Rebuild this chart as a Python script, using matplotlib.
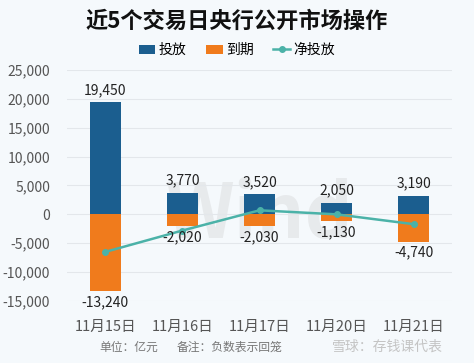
import numpy as np
import matplotlib.pyplot as plt

plt.rcParams['font.family'] = ['Noto Sans CJK SC', 'DejaVu Sans']

dates = ['11月15日', '11月16日', '11月17日', '11月20日', '11月21日']
inject = [19450, 3770, 3520, 2050, 3190]
mature = [-13240, -2020, -2030, -1130, -4740]
net = [-6500, -2800, 700, 0, -1700]

bg = '#f5f9fc'
blue = '#1b5e8f'
orange = '#f07b1c'
teal = '#4bb2a8'

fig = plt.figure(figsize=(4.74, 3.63), dpi=100, facecolor=bg)
ax = fig.add_axes([0.141, 0.171, 0.813, 0.636], facecolor=bg)

x = np.arange(len(dates))
b1 = ax.bar(x, inject, width=0.4, color=blue, zorder=2, label='投放')
b2 = ax.bar(x, mature, width=0.4, color=orange, zorder=2, label='到期')
l1, = ax.plot(x, net, color=teal, lw=1.8, marker='o', ms=4, zorder=3, label='净投放')

for xi, v in zip(x, inject):
    ax.text(xi, v + 900, f'{v:,}', ha='center', va='bottom', fontsize=10, color='#222222')
for xi, v in zip(x, mature):
    ax.text(xi, v - 700, f'{v:,}', ha='center', va='top', fontsize=10, color='#222222')

# faint watermark
ax.text(2.0, -300, 'Wind', ha='center', va='center', fontsize=54, fontweight='bold',
        color='#c8c8c8', alpha=0.3, zorder=1)

ax.set_xlim(-0.5, 4.5)
ax.set_ylim(-15000, 25000)
yt = np.arange(-15000, 25001, 5000)
ax.set_yticks(yt)
ax.set_yticklabels([f'{t:,}' for t in yt])
ax.set_xticks(x)
ax.set_xticklabels(dates)
ax.tick_params(axis='both', length=0, labelsize=10, colors='#555555')
ax.tick_params(axis='y', pad=12)
ax.tick_params(axis='x', pad=14, labelsize=10.5)
ax.grid(axis='y', color='#e3e7eb', lw=0.8, zorder=0)
for s in ax.spines.values():
    s.set_visible(False)

fig.text(0.5, 0.942, '近5个交易日央行公开市场操作', ha='center', va='center',
         fontsize=16, fontweight='bold', color='#111111')
fig.legend(handles=[b1, b2, l1], loc='center', bbox_to_anchor=(0.5, 0.862), ncol=3,
           frameon=False, fontsize=10, handlelength=1.2, handleheight=0.6,
           columnspacing=1.4, handletextpad=0.25)

fig.text(0.21, 0.044, '单位：亿元', fontsize=8.5, color='#777777', va='center')
fig.text(0.373, 0.044, '备注：负数表示回笼', fontsize=8.5, color='#777777', va='center')
fig.text(0.70, 0.044, '雪球：存钱课代表', fontsize=10, color='#c4c4c4', va='center')

fig.savefig('out.png', dpi=100, facecolor=bg)
